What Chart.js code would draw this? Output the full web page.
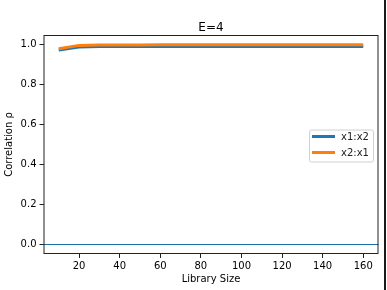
<!DOCTYPE html>
<html>
<head>
<meta charset="utf-8">
<script src="https://cdn.jsdelivr.net/npm/chart.js@4/dist/chart.umd.min.js"></script>
<style>
  html, body { margin: 0; padding: 0; background: #fff; }
  #wrap { position: relative; width: 387px; height: 290px; }
  #edge { position: absolute; left: 384px; top: 0; width: 2px; height: 290px; background: #1a1a1a; }
</style>
</head>
<body>
<div id="wrap">
  <canvas id="chart" width="387" height="290"></canvas>
  <div id="edge"></div>
</div>
<script>
// library sizes and cross-map skill
const librarySizes = [10, 20, 30, 40, 50, 60, 70, 80, 90, 100, 110, 120, 130, 140, 150, 160];
const x1x2 = [0.971, 0.986, 0.988, 0.988, 0.989, 0.989, 0.989, 0.989, 0.989, 0.989, 0.989, 0.989, 0.989, 0.989, 0.989, 0.989];
const x2x1 = [0.977, 0.994, 0.996, 0.996, 0.996, 0.997, 0.997, 0.997, 0.997, 0.997, 0.997, 0.997, 0.997, 0.997, 0.997, 0.997];
const seriesLabels = ["x1:x2", "x2:x1"];
const seriesColors = ["#1f77b4", "#ff7f0e"];
const xTicks = [20, 40, 60, 80, 100, 120, 140, 160];
const yTicks = [0.0, 0.2, 0.4, 0.6, 0.8, 1.0];
const baseline = 0;

const font = "DejaVu Sans";
const ink = "#222";

// box, zero line, title and legend, drawn like matplotlib does
const extras = {
  id: "extras",
  beforeDatasetsDraw(chart) {
    const { ctx, chartArea: a, scales } = chart;
    const y0 = Math.round(scales.y.getPixelForValue(baseline)) + 0.5;
    ctx.save();
    ctx.strokeStyle = "#1f6fa8";
    ctx.lineWidth = 1;
    ctx.beginPath();
    ctx.moveTo(a.left, y0);
    ctx.lineTo(a.right, y0);
    ctx.stroke();
    ctx.restore();
  },
  afterDraw(chart) {
    const { ctx, chartArea: a } = chart;
    ctx.save();
    ctx.strokeStyle = ink;
    ctx.lineWidth = 1;
    ctx.strokeRect(a.left + 0.5, a.top + 0.5, a.right - a.left - 1, a.bottom - a.top - 1);

    ctx.fillStyle = "#000";
    ctx.font = "12px '" + font + "'";
    ctx.textAlign = "center";
    ctx.textBaseline = "alphabetic";
    ctx.fillText("E=4", (a.left + a.right) / 2, a.top - 4.5);

    // legend box
    const w = 64, h = 32;
    const bx = a.right - 5.5 - w;
    const by = (a.top + a.bottom) / 2 - 15;
    ctx.fillStyle = "rgba(255,255,255,0.8)";
    ctx.strokeStyle = "#d0d0d0";
    ctx.beginPath();
    ctx.roundRect(bx + 0.5, by + 0.5, w, h, 2);
    ctx.fill();
    ctx.stroke();
    ctx.font = "10px '" + font + "'";
    ctx.textAlign = "left";
    ctx.textBaseline = "middle";
    seriesLabels.forEach((label, i) => {
      const ly = by + 7 + i * 16;
      ctx.strokeStyle = seriesColors[i];
      ctx.lineWidth = 3;
      ctx.beginPath();
      ctx.moveTo(bx + 3, ly);
      ctx.lineTo(bx + 26, ly);
      ctx.stroke();
      ctx.fillStyle = "#222";
      ctx.fillText(label, bx + 32, ly + 0.5);
    });
    ctx.restore();
  }
};

new Chart(document.getElementById("chart"), {
  type: "line",
  data: {
    datasets: [
      {
        label: seriesLabels[0],
        data: librarySizes.map((s, i) => ({ x: s, y: x1x2[i] })),
        borderColor: seriesColors[0],
        borderWidth: 3,
        pointRadius: 0,
        order: 1
      },
      {
        label: seriesLabels[1],
        data: librarySizes.map((s, i) => ({ x: s, y: x2x1[i] })),
        borderColor: seriesColors[1],
        borderWidth: 3,
        pointRadius: 0,
        order: 0
      }
    ]
  },
  options: {
    responsive: false,
    animation: false,
    layout: { padding: { top: 35, right: 8.5, left: 0, bottom: 0 } },
    plugins: { legend: { display: false }, title: { display: false }, tooltip: { enabled: false } },
    scales: {
      x: {
        type: "linear",
        min: 2.5,
        max: 167.5,
        afterBuildTicks: s => { s.ticks = xTicks.map(v => ({ value: v })); },
        afterFit: s => { s.height = 36; },
        grid: { drawOnChartArea: false, drawTicks: true, tickLength: 4, color: ink, tickWidth: 1 },
        border: { display: false },
        ticks: { color: "#000", font: { family: font, size: 10 }, padding: 2, maxRotation: 0 },
        title: { display: true, text: "Library Size", color: "#000", font: { family: font, size: 10 }, padding: { bottom: 5 } }
      },
      y: {
        min: -0.05,
        max: 1.046,
        afterBuildTicks: s => { s.ticks = yTicks.map(v => ({ value: v })); },
        afterFit: s => { s.width = 43.5; },
        grid: { drawOnChartArea: false, drawTicks: true, tickLength: 4, color: ink, tickWidth: 1 },
        border: { display: false },
        ticks: { color: "#000", font: { family: font, size: 10 }, padding: 3, callback: v => v.toFixed(1) },
        title: { display: true, text: "Correlation ρ", color: "#000", font: { family: font, size: 10 }, padding: { top: 3 } }
      }
    }
  },
  plugins: [extras]
});
</script>
</body>
</html>
